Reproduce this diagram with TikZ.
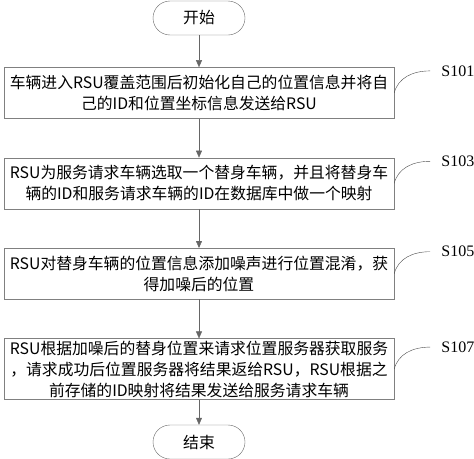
\documentclass[tikz,border=0pt]{standalone}
\usepackage{fontspec}
\setmainfont{Liberation Serif}
\newfontfamily\cjk{Noto Sans CJK SC}
\usetikzlibrary{positioning, arrows.meta}

\begin{document}
\begin{tikzpicture}[
        x=1pt, y=1pt,
        node distance=39pt,
        term/.style={rectangle, rounded corners=17pt, draw=black!60, minimum width=92pt, minimum height=34pt, font=\cjk\fontsize{15.8}{21}\selectfont},
        stepbox/.style={rectangle, draw=black!50, minimum width=390pt, minimum height=51pt, align=center, inner sep=1pt, font=\cjk\fontsize{15.8}{21}\selectfont},
        arrow/.style={-{Triangle[length=7pt, width=6pt]}, draw=black!60},
        tag/.style={anchor=west, inner xsep=11pt, inner ysep=0pt, font=\fontsize{16}{18}\selectfont},
        tagline/.style={draw=black!70}
    ]
        \useasboundingbox (0,0) rectangle (474,-458);

        % --- NODES ---
        \node[term] (start) at (199,-18) {开始};
        \node[stepbox, below=32pt of start] (s101) {车辆进入RSU覆盖范围后初始化自己的位置信息并将自\\己的ID和位置坐标信息发送给RSU};
        \node[stepbox, below=of s101] (s103) {RSU为服务请求车辆选取一个替身车辆，并且将替身车\\辆的ID和服务请求车辆的ID在数据库中做一个映射};
        \node[stepbox, below=of s103] (s105) {RSU对替身车辆的位置信息添加噪声进行位置混淆，获\\得加噪后的位置};
        \node[stepbox, below=of s105, minimum height=61pt] (s107) {RSU根据加噪后的替身位置来请求位置服务器获取服务\\，请求成功后位置服务器将结果返给RSU，RSU根据之\\前存储的ID映射将结果发送给服务请求车辆};
        \node[term, below=25pt of s107] (stop) {结束};

        % --- CONNECTIONS ---
        \draw[arrow] (start) -- (s101);
        \draw[arrow] (s101) -- (s103);
        \draw[arrow] (s103) -- (s105);
        \draw[arrow] (s105) -- (s107);
        \draw[arrow] (s107) -- (stop);

        % --- STEP TAGS ---
        \foreach \s in {101,103,105,107} {
            \node[tag] (t\s) at ([shift={(36,22)}]s\s.east) {S\s};
            \draw[tagline] (s\s.east) .. controls +(4,15) and +(-18,0) .. (t\s.west);
        }
    \end{tikzpicture}
\end{document}
